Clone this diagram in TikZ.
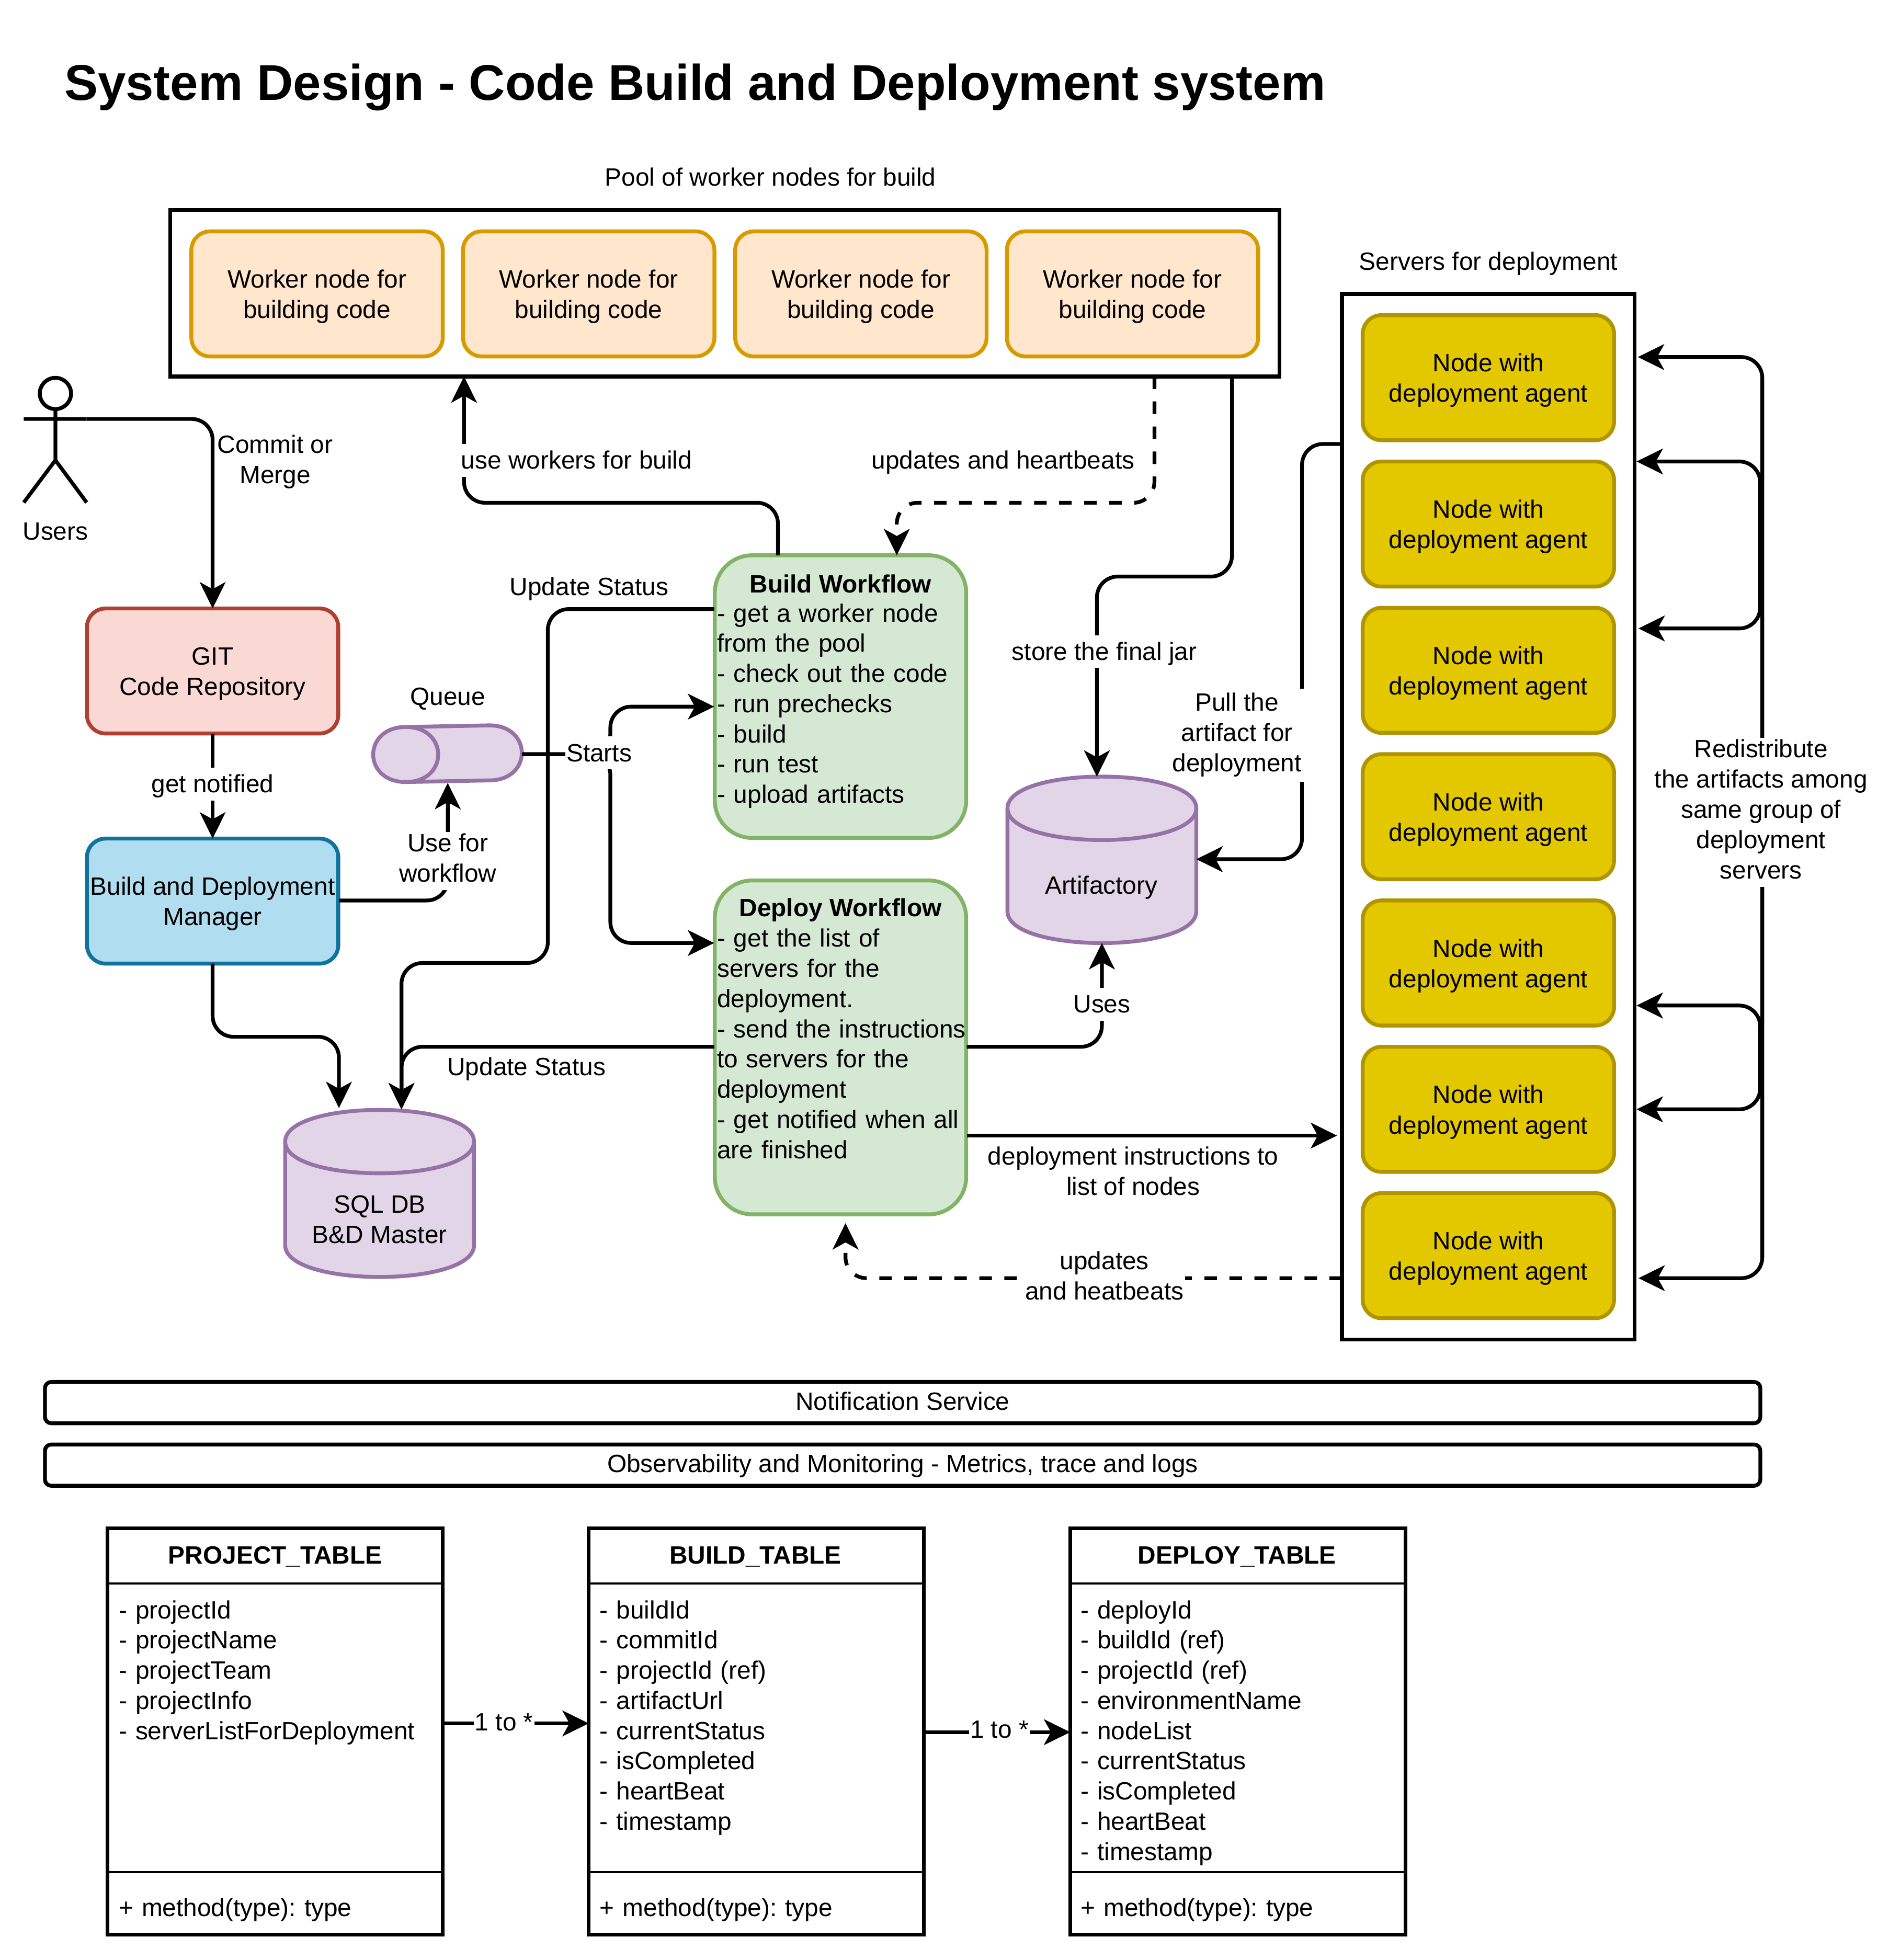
\documentclass[tikz,border=0pt]{standalone}
\usepackage{fontspec}
\setmainfont{Liberation Sans}
\usetikzlibrary{arrows.meta}
\AtBeginDocument{\frenchspacing}
\definecolor{wf}{HTML}{FFE6CC}\definecolor{ws}{HTML}{D79B00}
\definecolor{nf}{HTML}{E3C800}\definecolor{ns}{HTML}{B09500}
\definecolor{gf}{HTML}{FAD9D5}\definecolor{gs}{HTML}{AE4132}
\definecolor{mf}{HTML}{B1DDF0}\definecolor{ms}{HTML}{10739E}
\definecolor{pf}{HTML}{E1D5E7}\definecolor{ps}{HTML}{9673A6}
\definecolor{bf}{HTML}{D5E8D4}\definecolor{bs}{HTML}{82B366}
\newcommand{\lblstrut}{\rule[-5.3pt]{0pt}{24.3pt}}
\newcommand{\tallstrut}{\rule[-5.3pt]{0pt}{49.7pt}}
\newcommand{\barstrut}{\rule[-7.3pt]{0pt}{26.3pt}}
\tikzset{
  >={Stealth[length=21pt,width=20.5pt,inset=5.6pt]},
  base/.style={inner sep=0pt,outer sep=0pt,line width=3.1pt,align=center,font=\fontsize{20}{24.3}\selectfont,
    execute at begin node=\lblstrut,execute at end node=\lblstrut},
  tall/.style={execute at begin node=\tallstrut},
  blackbox/.style={base,draw=black,rectangle},
  worker/.style={base,tall,draw=ws,fill=wf,rounded corners=15pt,minimum width=201pt,minimum height=100pt},
  depnode/.style={base,tall,draw=ns,fill=nf,rounded corners=15pt,minimum width=201pt,minimum height=100pt},
  srv/.style={base,tall,draw=gs,fill=gf,rounded corners=15pt,minimum width=201pt,minimum height=100pt},
  mgr/.style={base,tall,draw=ms,fill=mf,rounded corners=15pt,minimum width=201pt,minimum height=100pt},
  flow/.style={base,draw=bs,fill=bf,rounded corners=30pt,minimum width=201pt},
  cyl/.style={line width=3.1pt,draw=ps,fill=pf,line join=round},
  ghost/.style={base,minimum width=#1},
  txt/.style={base},
  boldtxt/.style={base,anchor=base,font=\fontsize{20}{24.3}\selectfont\bfseries},
  lab/.style={base,fill=white,inner sep=1pt},
  flowtext/.style={base,anchor=north west,text width=215pt,align=left,font=\fontsize{20}{24.15}\selectfont},
  bar/.style={base,execute at begin node=\barstrut,execute at end node=\barstrut,draw=black,fill=white,rounded corners=5pt,minimum width=1371.5pt,minimum height=33pt},
  tbl/.style={base,draw=black,fill=white,minimum width=268pt,minimum height=325pt},
  sep/.style={line width=1.7pt},
  conn/.style={line width=3pt,rounded corners=16.7pt,->},
  twoway/.style={line width=3pt,rounded corners=16.7pt,<->},
  dashconn/.style={conn,dash pattern=on 10pt off 10pt},
}
\begin{document}
\begin{tikzpicture}[x=1pt,y=-1pt]
\useasboundingbox (0,0) rectangle (1510.3,1567.2);
% title
\node[base,anchor=base west,font=\fontsize{40.15}{48}\selectfont\bfseries] (title) at (51.5,80.2) {System Design - Code Build and Deployment system};
% pool
\node[blackbox,minimum width=887pt,minimum height=133pt] (pool) at (579.5,234.5) {};
\node[txt] (poollabel) at (616,142) {Pool of worker nodes for build};
\node[worker] (w1) at (253.5,235) {Worker node for\\building code};
\node[worker] (w2) at (470.7,235) {Worker node for\\building code};
\node[worker] (w3) at (688.3,235) {Worker node for\\building code};
\node[worker] (w4) at (905.5,235) {Worker node for\\building code};
% servers
\node[blackbox,minimum width=234pt,minimum height=836pt] (servers) at (1190,653) {};
\node[txt] (serverslabel) at (1190,209) {Servers for deployment};
\node[depnode] (d1) at (1190,302) {Node with\\deployment agent};
\node[depnode] (d2) at (1190,419) {Node with\\deployment agent};
\node[depnode] (d3) at (1190,536) {Node with\\deployment agent};
\node[depnode] (d4) at (1190,653) {Node with\\deployment agent};
\node[depnode] (d5) at (1190,770) {Node with\\deployment agent};
\node[depnode] (d6) at (1190,887) {Node with\\deployment agent};
\node[depnode] (d7) at (1190,1004) {Node with\\deployment agent};
% actor
\node[base,draw=black,fill=white,circle,minimum width=25pt] (head) at (44.3,314.6) {};
\coordinate (hip) at (44.3,368);
\coordinate (handl) at (19,335);
\coordinate (handr) at (69.3,335);
\coordinate (footl) at (19,401.8);
\coordinate (footr) at (69.3,401.8);
\draw[line width=3pt] (head.south) -- (hip) (handl) -- (handr) (footl) -- (hip) -- (footr);
\node[txt] (users) at (44.3,425) {Users};
% main boxes
\node[srv] (git) at (170,536.5) {GIT\\Code Repository};
\node[mgr] (manager) at (170,720.5) {Build and Deployment\\Manager};
\node[flow,minimum height=226pt] (build) at (672,557) {};
\node[flow,minimum height=267pt] (deploy) at (672,837.5) {};
% cylinders
\draw[cyl] (324.4,581.3) -- (391.2,580) .. controls (425.9,580) and (425.9,624) .. (391.2,624) -- (324.4,625.3) .. controls (289.7,625.3) and (289.7,581.3) .. (324.4,581.3) -- cycle;
\draw[line width=3.1pt,draw=ps] (324.4,581.3) .. controls (359,581.3) and (359,625.3) .. (324.4,625.3);
\node[ghost=118pt,minimum height=44pt] (queue) at (358.5,603) {};
\node[txt] (queuelabel) at (358,557) {Queue};
\draw[cyl] (228,912.8) .. controls (228,879) and (379,879) .. (379,912.8) -- (379,995.7) .. controls (379,1029.5) and (228,1029.5) .. (228,995.7) -- cycle;
\draw[line width=3.1pt,draw=ps] (228,912.8) .. controls (228,946.6) and (379,946.6) .. (379,912.8);
\node[txt] (sql) at (303.5,977.5) {SQL DB\\B\&D Master};
\draw[cyl] (805.5,646.3) .. controls (805.5,612.5) and (956.5,612.5) .. (956.5,646.3) -- (956.5,728.7) .. controls (956.5,762.5) and (805.5,762.5) .. (805.5,728.7) -- cycle;
\draw[line width=3.1pt,draw=ps] (805.5,646.3) .. controls (805.5,680.1) and (956.5,680.1) .. (956.5,646.3);
\node[txt] (artifactory) at (880.5,708) {Artifactory};
% attach points
\coordinate (sqltop) at (321,887);
\coordinate (sqltopl) at (271,886);
\coordinate (arttop) at (877,621);
\coordinate (artright) at (956.5,687);
\coordinate (artbot) at (881,754);
% connectors
\draw[conn] (handr) -| (git.north);
\draw[conn] (git.south) -- (manager.north);
\coordinate (m1) at (170,829);
\draw[conn] (manager.south) -- (m1) -| (sqltopl);
\coordinate (m2) at (271,720);
\coordinate (qbot) at (358,626);
\draw[conn] (m2) -| (qbot);
\coordinate (qr) at (417.5,603);
\coordinate (sb) at (488,603);
\coordinate (bi) at (571,565);
\coordinate (di) at (571,754);
\draw[conn] (qr) -- (sb) |- (bi);
\draw[conn] (qr) -- (sb) |- (di);
\coordinate (bo) at (571,487);
\coordinate (bv) at (438,770);
\draw[conn] (bo) -| (bv) -| (sqltop);
\coordinate (doo) at (571,837);
\draw[conn] (doo) -| (sqltop);
\coordinate (bt1) at (622,444);
\coordinate (bt2) at (371,402);
\coordinate (pb1) at (371,301);
\draw[conn] (bt1) |- (bt2) -- (pb1);
\coordinate (pb2) at (923,301);
\coordinate (pb2m) at (717,402);
\coordinate (bt3) at (717,444);
\draw[dashconn] (pb2) |- (pb2m) -- (bt3);
\coordinate (pb3) at (985,301);
\coordinate (pb3m) at (877,461);
\draw[conn] (pb3) |- (pb3m) -- (arttop);
\coordinate (s1) at (1073,355);
\coordinate (s1m) at (1041,687);
\draw[conn] (s1) -| (s1m) -- (artright);
\coordinate (de1) at (773,837);
\draw[conn] (de1) -| (artbot);
\coordinate (de2) at (773,908);
\coordinate (de2e) at (1069,908);
\draw[conn] (de2) -- (de2e);
\coordinate (s2) at (1073,1022);
\coordinate (de3) at (676,978);
\draw[dashconn] (s2) -| (de3);
% redistribute
\coordinate (r1) at (1309.5,285.5);
\coordinate (r2) at (1310,1022);
\coordinate (rv) at (1409,650);
\draw[twoway] (r1) -| (rv) |- (r2);
\coordinate (r3) at (1308.5,369);
\coordinate (r3v) at (1407.3,430);
\coordinate (r4) at (1310,502.5);
\draw[twoway] (r3) -| (r3v) |- (r4);
\coordinate (r5) at (1308.5,804);
\coordinate (r5v) at (1407.3,845);
\coordinate (r6) at (1308.5,887);
\draw[twoway] (r5) -| (r5v) |- (r6);
% labels
\node[txt] (l1) at (220,370) {Commit or\\Merge};
\node[lab] (l2) at (170,627) {get notified};
\node[lab] (l3) at (358,688.5) {Use for\\workflow};
\node[lab] (l4) at (479,602) {Starts};
\node[txt] (l5) at (471,469) {Update Status};
\node[txt] (l6) at (421,853) {Update Status};
\node[lab] (l7) at (461,368) {use workers for build};
\node[txt] (l8) at (802,368) {updates and heartbeats};
\node[lab] (l9) at (883,521) {store the final jar};
\node[lab,inner sep=3pt] (l10) at (989,588) {Pull the\\artifact for\\deployment};
\node[lab] (l11) at (881,803) {Uses};
\node[txt] (l12) at (906,939) {deployment instructions to\\list of nodes};
\node[lab] (l13) at (883,1022.5) {updates\\and heatbeats};
\node[lab] (l14) at (1408,649.5) {Redistribute\\the artifacts among\\same group of\\deployment\\servers};
% workflow text
\node[boldtxt] (bt) at (672,473.8) {Build Workflow};
\node[flowtext] (btext) at (573.3,478.2) {- get a worker node\\from the pool\\- check out the code\\- run prechecks\\- build\\- run test\\- upload artifacts};
\node[boldtxt] (dt) at (672,732.8) {Deploy Workflow};
\node[flowtext] (dtext) at (573.3,738.2) {- get the list of\\servers for the\\deployment.\\- send the instructions\\to servers for the\\deployment\\- get notified when all\\are finished};
% bars
\node[bar] (notif) at (721.7,1121.5) {Notification Service};
\node[bar] (obs) at (721.7,1171.5) {Observability and Monitoring - Metrics, trace and logs};
% tables
\node[tbl] (t1) at (220,1384.5) {};
\node[tbl] (t2) at (604.7,1384.5) {};
\node[tbl] (t3) at (989.7,1384.5) {};
\draw[sep] (86,1266) -- (354,1266) (86,1497) -- (354,1497);
\draw[sep] (470.7,1266) -- (738.7,1266) (470.7,1497) -- (738.7,1497);
\draw[sep] (855.7,1266) -- (1123.7,1266) (855.7,1497) -- (1123.7,1497);
\node[boldtxt] (h1) at (220,1250.5) {PROJECT\_TABLE};
\node[boldtxt] (h2) at (604,1250.5) {BUILD\_TABLE};
\node[boldtxt] (h3) at (989,1250.5) {DEPLOY\_TABLE};
\node[flowtext,text width=260pt] (b1) at (95,1275.2) {- projectId\\- projectName\\- projectTeam\\- projectInfo\\- serverListForDeployment};
\node[flowtext,text width=260pt] (b2) at (479.5,1275.2) {- buildId\\- commitId\\- projectId (ref)\\- artifactUrl\\- currentStatus\\- isCompleted\\- heartBeat\\- timestamp};
\node[flowtext,text width=260pt] (b3) at (864,1275.2) {- deployId\\- buildId (ref)\\- projectId (ref)\\- environmentName\\- nodeList\\- currentStatus\\- isCompleted\\- heartBeat\\- timestamp};
\node[flowtext,text width=260pt] (f1) at (95,1513.2) {+ method(type): type};
\node[flowtext,text width=260pt] (f2) at (479.5,1513.2) {+ method(type): type};
\node[flowtext,text width=260pt] (f3) at (864,1513.2) {+ method(type): type};
\coordinate (t1o) at (354,1378);
\coordinate (t2i) at (470.7,1378);
\coordinate (t2o) at (738.7,1385);
\coordinate (t3i) at (855.7,1385);
\draw[conn] (t1o) -- (t2i);
\draw[conn] (t2o) -- (t3i);
\node[lab] (k1) at (403,1377) {1 to *};
\node[lab] (k2) at (799,1383) {1 to *};
\end{tikzpicture}
\end{document}
